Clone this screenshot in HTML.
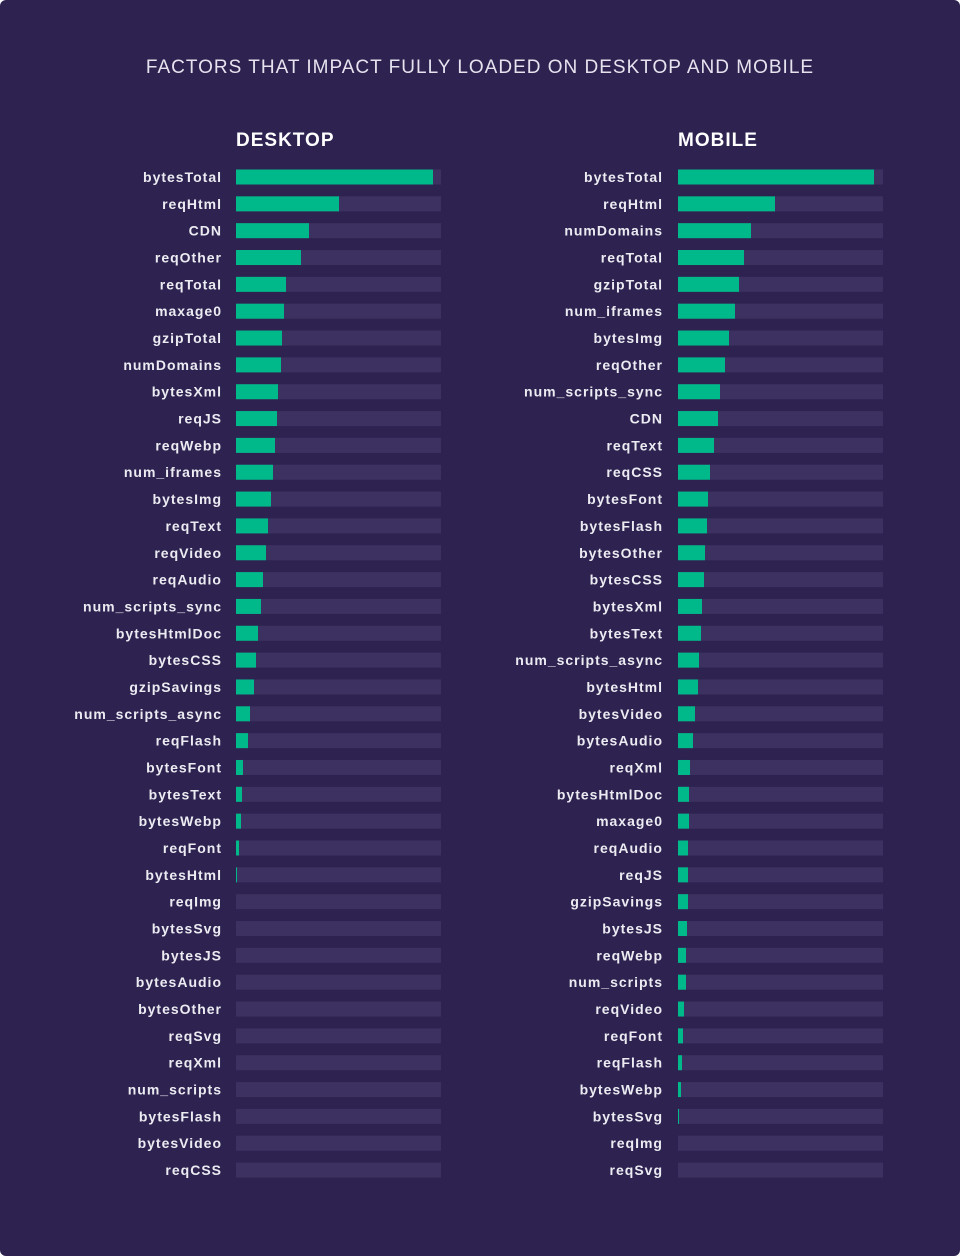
<!DOCTYPE html>
<html><head><meta charset="utf-8"><style>
html,body{margin:0;padding:0;background:#fff}
svg{display:block}
.l{font-family:"Liberation Sans",sans-serif;font-weight:bold;font-size:14px;fill:#ecebf2;letter-spacing:1px;text-anchor:end}
.t{fill:#3c3160}.b{fill:#00b98a}
</style></head><body>
<svg width="960" height="1256" viewBox="0 0 960 1256" xmlns="http://www.w3.org/2000/svg">
<rect x="0" y="0" width="960" height="1256" rx="6" fill="#2e2350"/>
<text x="480" y="73" text-anchor="middle" font-family="Liberation Sans, sans-serif" font-size="19" fill="#e6e3ef" letter-spacing="1">FACTORS THAT IMPACT FULLY LOADED ON DESKTOP AND MOBILE</text>
<text x="236" y="146" font-family="Liberation Sans, sans-serif" font-weight="bold" font-size="19" fill="#ffffff" letter-spacing="1">DESKTOP</text>
<text x="678" y="146" font-family="Liberation Sans, sans-serif" font-weight="bold" font-size="19" fill="#ffffff" letter-spacing="1">MOBILE</text>

<g transform="translate(0,177)"><text class="l" x="222" y="5">bytesTotal</text><rect class="t" x="236" y="-7.5" width="205" height="15"/><rect class="b" x="236" y="-7.5" width="197" height="15"/><text class="l" x="663" y="5">bytesTotal</text><rect class="t" x="678" y="-7.5" width="205" height="15"/><rect class="b" x="678" y="-7.5" width="196" height="15"/></g>
<g transform="translate(0,203.84)"><text class="l" x="222" y="5">reqHtml</text><rect class="t" x="236" y="-7.5" width="205" height="15"/><rect class="b" x="236" y="-7.5" width="103" height="15"/><text class="l" x="663" y="5">reqHtml</text><rect class="t" x="678" y="-7.5" width="205" height="15"/><rect class="b" x="678" y="-7.5" width="97" height="15"/></g>
<g transform="translate(0,230.68)"><text class="l" x="222" y="5">CDN</text><rect class="t" x="236" y="-7.5" width="205" height="15"/><rect class="b" x="236" y="-7.5" width="73" height="15"/><text class="l" x="663" y="5">numDomains</text><rect class="t" x="678" y="-7.5" width="205" height="15"/><rect class="b" x="678" y="-7.5" width="73" height="15"/></g>
<g transform="translate(0,257.52)"><text class="l" x="222" y="5">reqOther</text><rect class="t" x="236" y="-7.5" width="205" height="15"/><rect class="b" x="236" y="-7.5" width="65" height="15"/><text class="l" x="663" y="5">reqTotal</text><rect class="t" x="678" y="-7.5" width="205" height="15"/><rect class="b" x="678" y="-7.5" width="66" height="15"/></g>
<g transform="translate(0,284.36)"><text class="l" x="222" y="5">reqTotal</text><rect class="t" x="236" y="-7.5" width="205" height="15"/><rect class="b" x="236" y="-7.5" width="50" height="15"/><text class="l" x="663" y="5">gzipTotal</text><rect class="t" x="678" y="-7.5" width="205" height="15"/><rect class="b" x="678" y="-7.5" width="61" height="15"/></g>
<g transform="translate(0,311.2)"><text class="l" x="222" y="5">maxage0</text><rect class="t" x="236" y="-7.5" width="205" height="15"/><rect class="b" x="236" y="-7.5" width="48" height="15"/><text class="l" x="663" y="5">num_iframes</text><rect class="t" x="678" y="-7.5" width="205" height="15"/><rect class="b" x="678" y="-7.5" width="57" height="15"/></g>
<g transform="translate(0,338.04)"><text class="l" x="222" y="5">gzipTotal</text><rect class="t" x="236" y="-7.5" width="205" height="15"/><rect class="b" x="236" y="-7.5" width="46" height="15"/><text class="l" x="663" y="5">bytesImg</text><rect class="t" x="678" y="-7.5" width="205" height="15"/><rect class="b" x="678" y="-7.5" width="51" height="15"/></g>
<g transform="translate(0,364.88)"><text class="l" x="222" y="5">numDomains</text><rect class="t" x="236" y="-7.5" width="205" height="15"/><rect class="b" x="236" y="-7.5" width="45" height="15"/><text class="l" x="663" y="5">reqOther</text><rect class="t" x="678" y="-7.5" width="205" height="15"/><rect class="b" x="678" y="-7.5" width="47" height="15"/></g>
<g transform="translate(0,391.72)"><text class="l" x="222" y="5">bytesXml</text><rect class="t" x="236" y="-7.5" width="205" height="15"/><rect class="b" x="236" y="-7.5" width="42" height="15"/><text class="l" x="663" y="5">num_scripts_sync</text><rect class="t" x="678" y="-7.5" width="205" height="15"/><rect class="b" x="678" y="-7.5" width="42" height="15"/></g>
<g transform="translate(0,418.56)"><text class="l" x="222" y="5">reqJS</text><rect class="t" x="236" y="-7.5" width="205" height="15"/><rect class="b" x="236" y="-7.5" width="41" height="15"/><text class="l" x="663" y="5">CDN</text><rect class="t" x="678" y="-7.5" width="205" height="15"/><rect class="b" x="678" y="-7.5" width="40" height="15"/></g>
<g transform="translate(0,445.4)"><text class="l" x="222" y="5">reqWebp</text><rect class="t" x="236" y="-7.5" width="205" height="15"/><rect class="b" x="236" y="-7.5" width="39" height="15"/><text class="l" x="663" y="5">reqText</text><rect class="t" x="678" y="-7.5" width="205" height="15"/><rect class="b" x="678" y="-7.5" width="36" height="15"/></g>
<g transform="translate(0,472.24)"><text class="l" x="222" y="5">num_iframes</text><rect class="t" x="236" y="-7.5" width="205" height="15"/><rect class="b" x="236" y="-7.5" width="37" height="15"/><text class="l" x="663" y="5">reqCSS</text><rect class="t" x="678" y="-7.5" width="205" height="15"/><rect class="b" x="678" y="-7.5" width="32" height="15"/></g>
<g transform="translate(0,499.08)"><text class="l" x="222" y="5">bytesImg</text><rect class="t" x="236" y="-7.5" width="205" height="15"/><rect class="b" x="236" y="-7.5" width="35" height="15"/><text class="l" x="663" y="5">bytesFont</text><rect class="t" x="678" y="-7.5" width="205" height="15"/><rect class="b" x="678" y="-7.5" width="30" height="15"/></g>
<g transform="translate(0,525.92)"><text class="l" x="222" y="5">reqText</text><rect class="t" x="236" y="-7.5" width="205" height="15"/><rect class="b" x="236" y="-7.5" width="32" height="15"/><text class="l" x="663" y="5">bytesFlash</text><rect class="t" x="678" y="-7.5" width="205" height="15"/><rect class="b" x="678" y="-7.5" width="29" height="15"/></g>
<g transform="translate(0,552.76)"><text class="l" x="222" y="5">reqVideo</text><rect class="t" x="236" y="-7.5" width="205" height="15"/><rect class="b" x="236" y="-7.5" width="30" height="15"/><text class="l" x="663" y="5">bytesOther</text><rect class="t" x="678" y="-7.5" width="205" height="15"/><rect class="b" x="678" y="-7.5" width="27" height="15"/></g>
<g transform="translate(0,579.6)"><text class="l" x="222" y="5">reqAudio</text><rect class="t" x="236" y="-7.5" width="205" height="15"/><rect class="b" x="236" y="-7.5" width="27" height="15"/><text class="l" x="663" y="5">bytesCSS</text><rect class="t" x="678" y="-7.5" width="205" height="15"/><rect class="b" x="678" y="-7.5" width="26" height="15"/></g>
<g transform="translate(0,606.44)"><text class="l" x="222" y="5">num_scripts_sync</text><rect class="t" x="236" y="-7.5" width="205" height="15"/><rect class="b" x="236" y="-7.5" width="25" height="15"/><text class="l" x="663" y="5">bytesXml</text><rect class="t" x="678" y="-7.5" width="205" height="15"/><rect class="b" x="678" y="-7.5" width="24" height="15"/></g>
<g transform="translate(0,633.28)"><text class="l" x="222" y="5">bytesHtmlDoc</text><rect class="t" x="236" y="-7.5" width="205" height="15"/><rect class="b" x="236" y="-7.5" width="22" height="15"/><text class="l" x="663" y="5">bytesText</text><rect class="t" x="678" y="-7.5" width="205" height="15"/><rect class="b" x="678" y="-7.5" width="23" height="15"/></g>
<g transform="translate(0,660.12)"><text class="l" x="222" y="5">bytesCSS</text><rect class="t" x="236" y="-7.5" width="205" height="15"/><rect class="b" x="236" y="-7.5" width="20" height="15"/><text class="l" x="663" y="5">num_scripts_async</text><rect class="t" x="678" y="-7.5" width="205" height="15"/><rect class="b" x="678" y="-7.5" width="21" height="15"/></g>
<g transform="translate(0,686.96)"><text class="l" x="222" y="5">gzipSavings</text><rect class="t" x="236" y="-7.5" width="205" height="15"/><rect class="b" x="236" y="-7.5" width="18" height="15"/><text class="l" x="663" y="5">bytesHtml</text><rect class="t" x="678" y="-7.5" width="205" height="15"/><rect class="b" x="678" y="-7.5" width="20" height="15"/></g>
<g transform="translate(0,713.8)"><text class="l" x="222" y="5">num_scripts_async</text><rect class="t" x="236" y="-7.5" width="205" height="15"/><rect class="b" x="236" y="-7.5" width="14" height="15"/><text class="l" x="663" y="5">bytesVideo</text><rect class="t" x="678" y="-7.5" width="205" height="15"/><rect class="b" x="678" y="-7.5" width="17" height="15"/></g>
<g transform="translate(0,740.64)"><text class="l" x="222" y="5">reqFlash</text><rect class="t" x="236" y="-7.5" width="205" height="15"/><rect class="b" x="236" y="-7.5" width="12" height="15"/><text class="l" x="663" y="5">bytesAudio</text><rect class="t" x="678" y="-7.5" width="205" height="15"/><rect class="b" x="678" y="-7.5" width="15" height="15"/></g>
<g transform="translate(0,767.48)"><text class="l" x="222" y="5">bytesFont</text><rect class="t" x="236" y="-7.5" width="205" height="15"/><rect class="b" x="236" y="-7.5" width="7" height="15"/><text class="l" x="663" y="5">reqXml</text><rect class="t" x="678" y="-7.5" width="205" height="15"/><rect class="b" x="678" y="-7.5" width="12" height="15"/></g>
<g transform="translate(0,794.32)"><text class="l" x="222" y="5">bytesText</text><rect class="t" x="236" y="-7.5" width="205" height="15"/><rect class="b" x="236" y="-7.5" width="6" height="15"/><text class="l" x="663" y="5">bytesHtmlDoc</text><rect class="t" x="678" y="-7.5" width="205" height="15"/><rect class="b" x="678" y="-7.5" width="11" height="15"/></g>
<g transform="translate(0,821.16)"><text class="l" x="222" y="5">bytesWebp</text><rect class="t" x="236" y="-7.5" width="205" height="15"/><rect class="b" x="236" y="-7.5" width="5" height="15"/><text class="l" x="663" y="5">maxage0</text><rect class="t" x="678" y="-7.5" width="205" height="15"/><rect class="b" x="678" y="-7.5" width="11" height="15"/></g>
<g transform="translate(0,848)"><text class="l" x="222" y="5">reqFont</text><rect class="t" x="236" y="-7.5" width="205" height="15"/><rect class="b" x="236" y="-7.5" width="3" height="15"/><text class="l" x="663" y="5">reqAudio</text><rect class="t" x="678" y="-7.5" width="205" height="15"/><rect class="b" x="678" y="-7.5" width="10" height="15"/></g>
<g transform="translate(0,874.84)"><text class="l" x="222" y="5">bytesHtml</text><rect class="t" x="236" y="-7.5" width="205" height="15"/><rect class="b" x="236" y="-7.5" width="1" height="15"/><text class="l" x="663" y="5">reqJS</text><rect class="t" x="678" y="-7.5" width="205" height="15"/><rect class="b" x="678" y="-7.5" width="10" height="15"/></g>
<g transform="translate(0,901.68)"><text class="l" x="222" y="5">reqImg</text><rect class="t" x="236" y="-7.5" width="205" height="15"/><text class="l" x="663" y="5">gzipSavings</text><rect class="t" x="678" y="-7.5" width="205" height="15"/><rect class="b" x="678" y="-7.5" width="10" height="15"/></g>
<g transform="translate(0,928.52)"><text class="l" x="222" y="5">bytesSvg</text><rect class="t" x="236" y="-7.5" width="205" height="15"/><text class="l" x="663" y="5">bytesJS</text><rect class="t" x="678" y="-7.5" width="205" height="15"/><rect class="b" x="678" y="-7.5" width="9" height="15"/></g>
<g transform="translate(0,955.36)"><text class="l" x="222" y="5">bytesJS</text><rect class="t" x="236" y="-7.5" width="205" height="15"/><text class="l" x="663" y="5">reqWebp</text><rect class="t" x="678" y="-7.5" width="205" height="15"/><rect class="b" x="678" y="-7.5" width="8" height="15"/></g>
<g transform="translate(0,982.2)"><text class="l" x="222" y="5">bytesAudio</text><rect class="t" x="236" y="-7.5" width="205" height="15"/><text class="l" x="663" y="5">num_scripts</text><rect class="t" x="678" y="-7.5" width="205" height="15"/><rect class="b" x="678" y="-7.5" width="8" height="15"/></g>
<g transform="translate(0,1009.04)"><text class="l" x="222" y="5">bytesOther</text><rect class="t" x="236" y="-7.5" width="205" height="15"/><text class="l" x="663" y="5">reqVideo</text><rect class="t" x="678" y="-7.5" width="205" height="15"/><rect class="b" x="678" y="-7.5" width="6" height="15"/></g>
<g transform="translate(0,1035.88)"><text class="l" x="222" y="5">reqSvg</text><rect class="t" x="236" y="-7.5" width="205" height="15"/><text class="l" x="663" y="5">reqFont</text><rect class="t" x="678" y="-7.5" width="205" height="15"/><rect class="b" x="678" y="-7.5" width="5" height="15"/></g>
<g transform="translate(0,1062.72)"><text class="l" x="222" y="5">reqXml</text><rect class="t" x="236" y="-7.5" width="205" height="15"/><text class="l" x="663" y="5">reqFlash</text><rect class="t" x="678" y="-7.5" width="205" height="15"/><rect class="b" x="678" y="-7.5" width="4" height="15"/></g>
<g transform="translate(0,1089.56)"><text class="l" x="222" y="5">num_scripts</text><rect class="t" x="236" y="-7.5" width="205" height="15"/><text class="l" x="663" y="5">bytesWebp</text><rect class="t" x="678" y="-7.5" width="205" height="15"/><rect class="b" x="678" y="-7.5" width="3" height="15"/></g>
<g transform="translate(0,1116.4)"><text class="l" x="222" y="5">bytesFlash</text><rect class="t" x="236" y="-7.5" width="205" height="15"/><text class="l" x="663" y="5">bytesSvg</text><rect class="t" x="678" y="-7.5" width="205" height="15"/><rect class="b" x="678" y="-7.5" width="1" height="15"/></g>
<g transform="translate(0,1143.24)"><text class="l" x="222" y="5">bytesVideo</text><rect class="t" x="236" y="-7.5" width="205" height="15"/><text class="l" x="663" y="5">reqImg</text><rect class="t" x="678" y="-7.5" width="205" height="15"/></g>
<g transform="translate(0,1170.08)"><text class="l" x="222" y="5">reqCSS</text><rect class="t" x="236" y="-7.5" width="205" height="15"/><text class="l" x="663" y="5">reqSvg</text><rect class="t" x="678" y="-7.5" width="205" height="15"/></g>
</svg>
</body></html>
